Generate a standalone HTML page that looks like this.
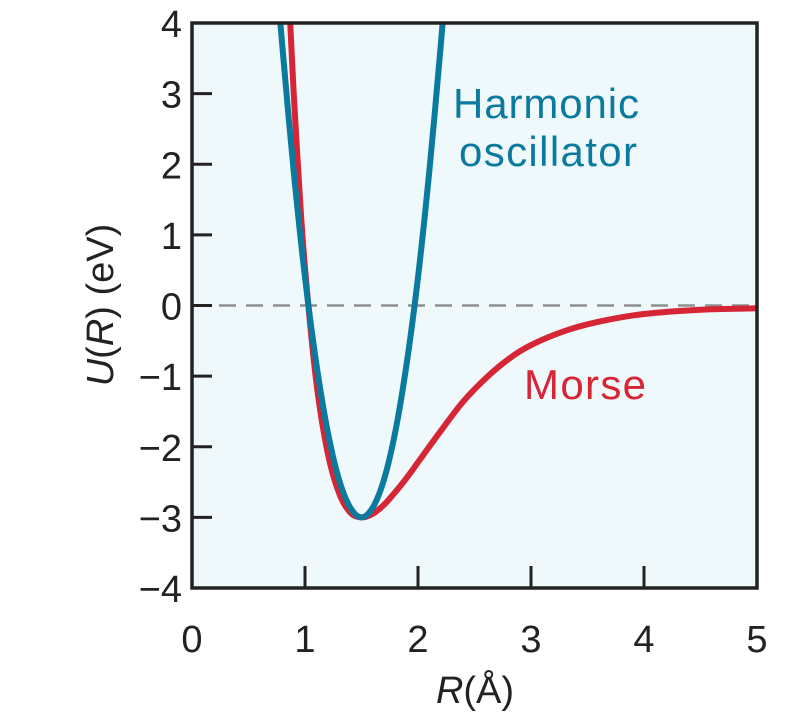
<!DOCTYPE html>
<html><head><meta charset="utf-8"><style>
body{margin:0;background:#fff;}
svg{display:block;font-family:"Liberation Sans",sans-serif;}
</style></head><body>
<svg id="chart" width="794" height="712">
<defs><clipPath id="plotclip"><rect x="192" y="23" width="565" height="565"/></clipPath></defs>
<rect x="192" y="23" width="565" height="565" fill="#eff8fa"/>
<g id="grid"></g>
<g id="series" clip-path="url(#plotclip)"></g>
<rect x="192" y="23" width="565" height="565" fill="none" stroke="#222" stroke-width="3.5"/>
<g id="axes"></g>
<text x="453" y="118" font-size="42" fill="#0a7a9e" textLength="186">Harmonic</text>
<text x="459" y="166" font-size="42" fill="#0a7a9e" textLength="178">oscillator</text>
<text x="524" y="399" font-size="42" fill="#d62535" textLength="122">Morse</text>
<text x="475" y="703" font-size="38" fill="#222" text-anchor="middle"><tspan font-style="italic">R</tspan>(Å)</text>
<text transform="translate(113,305) rotate(-90)" font-size="38" fill="#222" text-anchor="middle"><tspan font-style="italic">U</tspan>(<tspan font-style="italic">R</tspan>) (eV)</text>
</svg>
<script>
const xTicks=[0,1,2,3,4,5];
const yTicks=[4,3,2,1,0,-1,-2,-3,-4];
const yTickLabels=["4","3","2","1","0","\u22121","\u22122","\u22123","\u22124"];
const morseR=[0.87,0.9,0.95,1.0,1.1,1.2,1.3,1.4,1.5,1.6,1.7,1.8,1.9,2.0,2.2,2.4,2.6,2.8,3.0,3.3,3.6,4.0,4.5,5.0];
const morseU=[3.97,3.01,1.65,0.53,-1.08,-2.08,-2.65,-2.93,-3.0,-2.95,-2.82,-2.64,-2.44,-2.22,-1.78,-1.36,-1.03,-0.76,-0.56,-0.36,-0.23,-0.12,-0.06,-0.04];
const harmR=[0.76,0.8,0.9,1.0,1.1,1.2,1.3,1.4,1.5,1.6,1.7,1.8,1.9,2.0,2.1,2.2,2.24];
const harmU=[4.45,3.66,1.90,0.40,-0.82,-1.78,-2.46,-2.86,-3.0,-2.86,-2.46,-1.78,-0.82,0.40,1.90,3.66,4.45];
const NS="http://www.w3.org/2000/svg";
const X0=192,X1=757,Y0=588,Y1=23;
function sx(v){return X0+(v-0)/(5-0)*(X1-X0);}
function sy(v){return Y0-(v+4)/8*(Y0-Y1);}
function mk(tag,attrs,parent){const e=document.createElementNS(NS,tag);for(const k in attrs)e.setAttribute(k,attrs[k]);parent.appendChild(e);return e;}
const axes=document.getElementById('axes'),series=document.getElementById('series'),grid=document.getElementById('grid');
const zl=mk('line',{x1:X0,x2:X1,y1:sy(0),y2:sy(0),stroke:'#8f8f8f','stroke-width':2.5,'stroke-dasharray':'17 10'},grid);


function smoothPath(P){
  let d='M'+P[0][0].toFixed(1)+','+P[0][1].toFixed(1);
  for(let i=0;i<P.length-1;i++){
    const p0=P[i-1]||P[i],p1=P[i],p2=P[i+1],p3=P[i+2]||P[i+1];
    const c1=[p1[0]+(p2[0]-p0[0])/6,p1[1]+(p2[1]-p0[1])/6];
    const c2=[p2[0]-(p3[0]-p1[0])/6,p2[1]-(p3[1]-p1[1])/6];
    d+=' C'+c1[0].toFixed(1)+','+c1[1].toFixed(1)+' '+c2[0].toFixed(1)+','+c2[1].toFixed(1)+' '+p2[0].toFixed(1)+','+p2[1].toFixed(1);
  }
  return d;
}
function curve(R,U,color,name){
  const pts=R.map((r,i)=>[sx(r),sy(U[i])]);
  const p=mk('path',{d:smoothPath(pts),fill:'none',stroke:color,'stroke-width':6,'stroke-linejoin':'round','stroke-linecap':'round'},series);
  
  
}
curve(morseR,morseU,'#d62535','morse-curve');
curve(harmR,harmU,'#0a7a9e','harmonic-curve');
xTicks.forEach((t,i)=>{
  if(t>0&&t<5){const l=mk('line',{x1:sx(t),x2:sx(t),y1:Y0,y2:Y0-22,stroke:'#222','stroke-width':3},axes);
  
  }
  const tx=mk('text',{x:sx(t),y:652,'font-size':38,fill:'#222','text-anchor':'middle'},axes);
  tx.textContent=String(t);
  
  
});
yTicks.forEach((t,i)=>{
  if(t<4&&t>-4){const l=mk('line',{x1:X0,x2:X0+20,y1:sy(t),y2:sy(t),stroke:'#222','stroke-width':3},axes);
  
  }
  const tx=mk('text',{x:182,y:sy(t)+14,'font-size':38,fill:'#222','text-anchor':'end'},axes);
  tx.textContent=yTickLabels[i];
  
  
});
</script>
</body></html>
